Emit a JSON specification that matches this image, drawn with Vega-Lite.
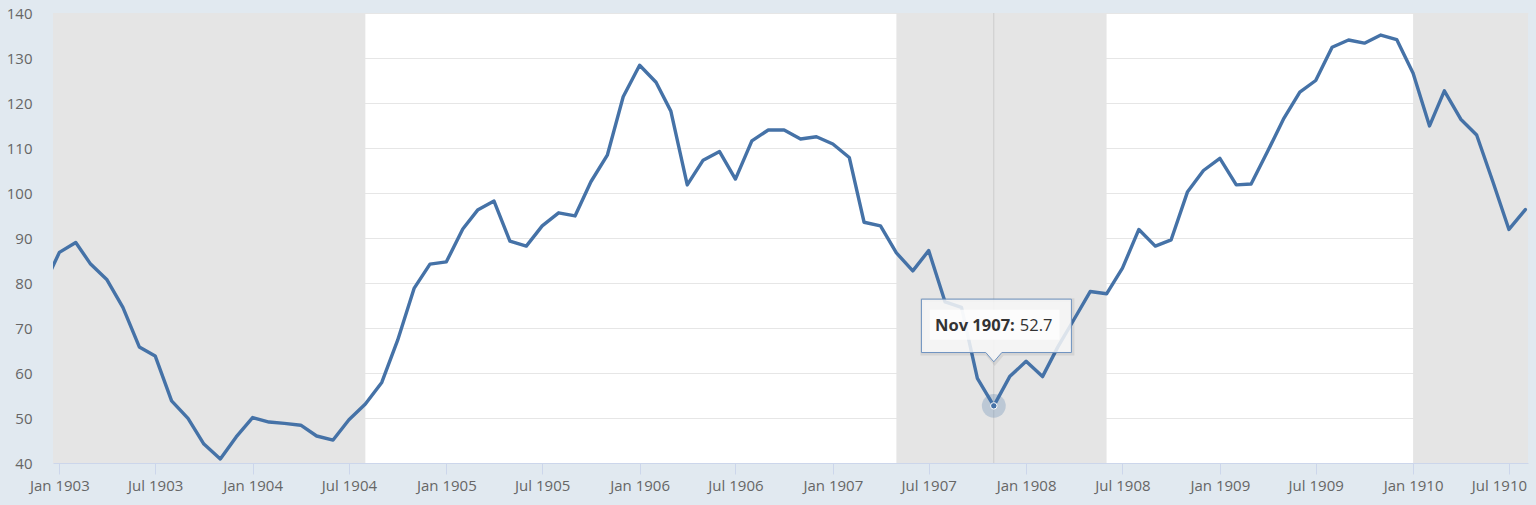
{
  "$schema": "https://vega.github.io/schema/vega-lite/v6.json",
  "width": 1475,
  "height": 450,
  "autosize": {"type": "none"},
  "padding": {"left": 53, "top": 13, "right": 8, "bottom": 42},
  "background": "#e1e9f0",
  "view": {"fill": "#ffffff", "stroke": null},
  "config": {
    "font": "Open Sans",
    "axis": {"labelFont": "Open Sans", "labelFontSize": 15, "labelColor": "#666666", "title": null}
  },
  "datasets": {
    "series": [
      {"date": "1902-12-01", "value": 79.0},
      {"date": "1903-01-01", "value": 86.8},
      {"date": "1903-02-01", "value": 89.0},
      {"date": "1903-03-01", "value": 84.2},
      {"date": "1903-04-01", "value": 80.7},
      {"date": "1903-05-01", "value": 74.6},
      {"date": "1903-06-01", "value": 65.8},
      {"date": "1903-07-01", "value": 63.8},
      {"date": "1903-08-01", "value": 53.8},
      {"date": "1903-09-01", "value": 49.9},
      {"date": "1903-10-01", "value": 44.2},
      {"date": "1903-11-01", "value": 40.9},
      {"date": "1903-12-01", "value": 45.8},
      {"date": "1904-01-01", "value": 50.1},
      {"date": "1904-02-01", "value": 49.1},
      {"date": "1904-03-01", "value": 48.8},
      {"date": "1904-04-01", "value": 48.4},
      {"date": "1904-05-01", "value": 46.0},
      {"date": "1904-06-01", "value": 45.1},
      {"date": "1904-07-01", "value": 49.6},
      {"date": "1904-08-01", "value": 53.1},
      {"date": "1904-09-01", "value": 57.9},
      {"date": "1904-10-01", "value": 67.3},
      {"date": "1904-11-01", "value": 78.8},
      {"date": "1904-12-01", "value": 84.2},
      {"date": "1905-01-01", "value": 84.7},
      {"date": "1905-02-01", "value": 92.0},
      {"date": "1905-03-01", "value": 96.2},
      {"date": "1905-04-01", "value": 98.2},
      {"date": "1905-05-01", "value": 89.3},
      {"date": "1905-06-01", "value": 88.2},
      {"date": "1905-07-01", "value": 92.7},
      {"date": "1905-08-01", "value": 95.6},
      {"date": "1905-09-01", "value": 94.9},
      {"date": "1905-10-01", "value": 102.5},
      {"date": "1905-11-01", "value": 108.4},
      {"date": "1905-12-01", "value": 121.4},
      {"date": "1906-01-01", "value": 128.4},
      {"date": "1906-02-01", "value": 124.6},
      {"date": "1906-03-01", "value": 118.2},
      {"date": "1906-04-01", "value": 101.8},
      {"date": "1906-05-01", "value": 107.3},
      {"date": "1906-06-01", "value": 109.2},
      {"date": "1906-07-01", "value": 103.1},
      {"date": "1906-08-01", "value": 111.6},
      {"date": "1906-09-01", "value": 114.0},
      {"date": "1906-10-01", "value": 114.0},
      {"date": "1906-11-01", "value": 112.0},
      {"date": "1906-12-01", "value": 112.5},
      {"date": "1907-01-01", "value": 110.9},
      {"date": "1907-02-01", "value": 107.9},
      {"date": "1907-03-01", "value": 93.5},
      {"date": "1907-04-01", "value": 92.7},
      {"date": "1907-05-01", "value": 86.7},
      {"date": "1907-06-01", "value": 82.7},
      {"date": "1907-07-01", "value": 87.2},
      {"date": "1907-08-01", "value": 75.8},
      {"date": "1907-09-01", "value": 74.6},
      {"date": "1907-10-01", "value": 58.8},
      {"date": "1907-11-01", "value": 52.7},
      {"date": "1907-12-01", "value": 59.2},
      {"date": "1908-01-01", "value": 62.6},
      {"date": "1908-02-01", "value": 59.2},
      {"date": "1908-03-01", "value": 65.8},
      {"date": "1908-04-01", "value": 72.0},
      {"date": "1908-05-01", "value": 78.1},
      {"date": "1908-06-01", "value": 77.6},
      {"date": "1908-07-01", "value": 83.3},
      {"date": "1908-08-01", "value": 91.9},
      {"date": "1908-09-01", "value": 88.2},
      {"date": "1908-10-01", "value": 89.6},
      {"date": "1908-11-01", "value": 100.3},
      {"date": "1908-12-01", "value": 105.0},
      {"date": "1909-01-01", "value": 107.7},
      {"date": "1909-02-01", "value": 101.8},
      {"date": "1909-03-01", "value": 102.0},
      {"date": "1909-04-01", "value": 109.2},
      {"date": "1909-05-01", "value": 116.4},
      {"date": "1909-06-01", "value": 122.4},
      {"date": "1909-07-01", "value": 125.0},
      {"date": "1909-08-01", "value": 132.4},
      {"date": "1909-09-01", "value": 134.0},
      {"date": "1909-10-01", "value": 133.3},
      {"date": "1909-11-01", "value": 135.1},
      {"date": "1909-12-01", "value": 134.1},
      {"date": "1910-01-01", "value": 126.6},
      {"date": "1910-02-01", "value": 114.9},
      {"date": "1910-03-01", "value": 122.7},
      {"date": "1910-04-01", "value": 116.4},
      {"date": "1910-05-01", "value": 112.9},
      {"date": "1910-06-01", "value": 102.4},
      {"date": "1910-07-01", "value": 91.9},
      {"date": "1910-08-01", "value": 96.3}
    ],
    "recessions": [
      {"start": "1902-09-01", "end": "1904-08-01"},
      {"start": "1907-05-01", "end": "1908-06-01"},
      {"start": "1910-01-01", "end": "1912-01-01"}
    ],
    "hover": [
      {"date": "1907-11-01", "value": 52.7, "label": "Nov 1907:"}
    ]
  },
  "layer": [
    {
      "data": {"name": "recessions"},
      "mark": {"type": "rect", "color": "#e5e5e5", "clip": true},
      "encoding": {
        "x": {
          "field": "start", "type": "temporal",
          "scale": {"type": "utc", "domain": [{"year": 1902, "month": 12, "date": 20, "utc": true}, {"year": 1910, "month": 8, "date": 6, "utc": true}]},
          "axis": {
            "format": "%b %Y",
            "values": [
              {"year": 1903, "month": 1, "date": 1, "utc": true},
              {"year": 1903, "month": 7, "date": 1, "utc": true},
              {"year": 1904, "month": 1, "date": 1, "utc": true},
              {"year": 1904, "month": 7, "date": 1, "utc": true},
              {"year": 1905, "month": 1, "date": 1, "utc": true},
              {"year": 1905, "month": 7, "date": 1, "utc": true},
              {"year": 1906, "month": 1, "date": 1, "utc": true},
              {"year": 1906, "month": 7, "date": 1, "utc": true},
              {"year": 1907, "month": 1, "date": 1, "utc": true},
              {"year": 1907, "month": 7, "date": 1, "utc": true},
              {"year": 1908, "month": 1, "date": 1, "utc": true},
              {"year": 1908, "month": 7, "date": 1, "utc": true},
              {"year": 1909, "month": 1, "date": 1, "utc": true},
              {"year": 1909, "month": 7, "date": 1, "utc": true},
              {"year": 1910, "month": 1, "date": 1, "utc": true},
              {"year": 1910, "month": 7, "date": 1, "utc": true}
            ],
            "grid": false,
            "domainColor": "#ccd6eb",
            "tickColor": "#ccd6eb",
            "tickSize": 11,
            "labelPadding": 4,
            "labelOverlap": false,
            "labelOffset": {"condition": {"test": "utcyear(datum.value) === 1910 && utcmonth(datum.value) === 6", "value": -10}, "value": 0}
          }
        },
        "x2": {"field": "end"}
      }
    },
    {
      "data": {"name": "hover"},
      "mark": {"type": "rule", "color": "#cccccc", "strokeWidth": 1},
      "encoding": {
        "x": {"field": "date", "type": "temporal"}
      }
    },
    {
      "data": {"name": "series"},
      "mark": {"type": "line", "color": "#4572a7", "strokeWidth": 3.4, "strokeJoin": "round", "strokeCap": "round", "clip": true},
      "encoding": {
        "x": {"field": "date", "type": "temporal"},
        "y": {
          "field": "value", "type": "quantitative",
          "scale": {"domain": [40, 140], "nice": false, "zero": false},
          "axis": {
            "values": [40, 50, 60, 70, 80, 90, 100, 110, 120, 130, 140],
            "grid": true, "gridColor": "#e6e6e6", "gridWidth": 1,
            "ticks": false, "tickSize": 0, "domain": false,
            "labelPadding": 21
          }
        }
      }
    },
    {
      "data": {"name": "hover"},
      "mark": {"type": "point", "shape": "circle", "filled": true, "size": 570, "color": "#4572a7", "opacity": 0.25},
      "encoding": {
        "x": {"field": "date", "type": "temporal"},
        "y": {"field": "value", "type": "quantitative"}
      }
    },
    {
      "data": {"name": "hover"},
      "mark": {"type": "point", "shape": "circle", "filled": true, "size": 42, "fill": "#4572a7", "fillOpacity": 1, "stroke": "#ffffff", "strokeWidth": 1, "opacity": 1},
      "encoding": {
        "x": {"field": "date", "type": "temporal"},
        "y": {"field": "value", "type": "quantitative"}
      }
    },
    {
      "data": {"name": "hover"},
      "mark": {
        "type": "point",
        "shape": "M -0.965 -1.423 L 1.035 -1.423 L 1.035 -0.711 L 0.107 -0.711 L 0 -0.587 L -0.107 -0.711 L -0.965 -0.711 Z",
        "size": 22500, "filled": false, "fill": null, "stroke": "#000000", "strokeOpacity": 0.07, "strokeWidth": 4, "opacity": 1,
        "xOffset": 1, "yOffset": 1
      },
      "encoding": {
        "x": {"field": "date", "type": "temporal"},
        "y": {"field": "value", "type": "quantitative"}
      }
    },
    {
      "data": {"name": "hover"},
      "mark": {
        "type": "point",
        "shape": "M -0.965 -1.423 L 1.035 -1.423 L 1.035 -0.711 L 0.107 -0.711 L 0 -0.587 L -0.107 -0.711 L -0.965 -0.711 Z",
        "size": 22500, "filled": true, "fill": "#f7f7f7", "fillOpacity": 0.85, "stroke": "#6f93c0", "strokeWidth": 1, "strokeOpacity": 1, "opacity": 1
      },
      "encoding": {
        "x": {"field": "date", "type": "temporal"},
        "y": {"field": "value", "type": "quantitative"}
      }
    },
    {
      "data": {"name": "hover"},
      "mark": {
        "type": "point",
        "shape": "M -0.853 -1.28 L 0.876 -1.28 L 0.876 -0.88 L -0.853 -0.88 Z",
        "size": 22500, "filled": true, "fill": "#ffffff", "fillOpacity": 0.75, "strokeWidth": 0, "opacity": 1
      },
      "encoding": {
        "x": {"field": "date", "type": "temporal"},
        "y": {"field": "value", "type": "quantitative"}
      }
    },
    {
      "data": {"name": "hover"},
      "mark": {"type": "text", "font": "Open Sans", "fontSize": 16.5, "fontWeight": "bold", "color": "#333333", "align": "right", "baseline": "alphabetic", "dx": 21, "dy": -75},
      "encoding": {
        "x": {"field": "date", "type": "temporal"},
        "y": {"field": "value", "type": "quantitative"},
        "text": {"field": "label"}
      }
    },
    {
      "data": {"name": "hover"},
      "mark": {"type": "text", "font": "Open Sans", "fontSize": 16.5, "fontWeight": "normal", "color": "#333333", "align": "left", "baseline": "alphabetic", "dx": 26, "dy": -75},
      "encoding": {
        "x": {"field": "date", "type": "temporal"},
        "y": {"field": "value", "type": "quantitative"},
        "text": {"field": "value", "type": "quantitative", "format": ".1f"}
      }
    }
  ]
}
